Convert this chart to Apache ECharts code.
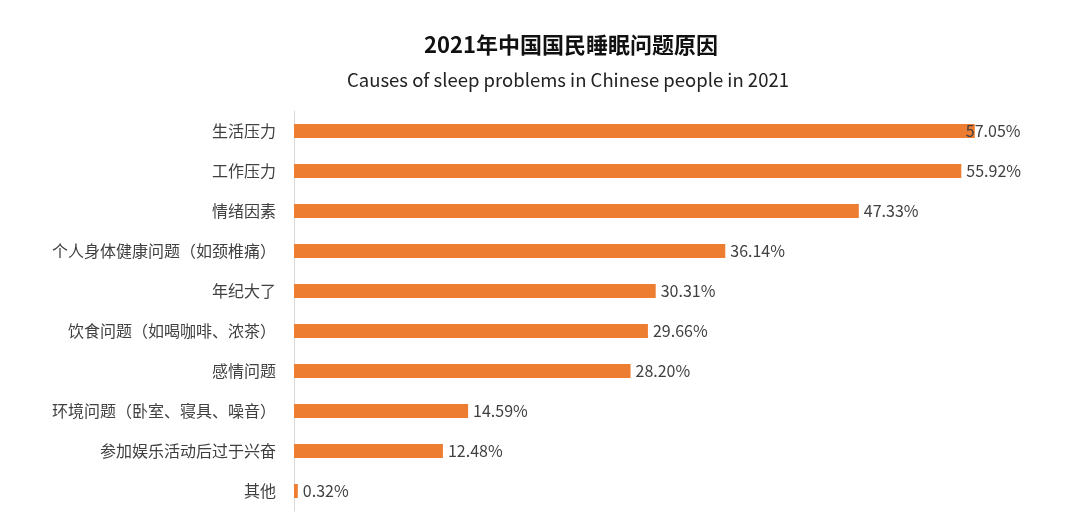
<!DOCTYPE html>
<html>
<head>
    <meta charset="utf-8">
    <title>ECharts</title>
    <script type="text/javascript" src="https://cdn.jsdelivr.net/npm/echarts@6/dist/echarts.min.js"></script>
    <style type="text/css">
        body { margin: 0; background: #fff; }
        #main { width: 1080px; height: 515px; }
    </style>
</head>
<body>
<div id="main"></div>
<script type="text/javascript">
    // 原因（从上到下）
    var categories = ['生活压力', '工作压力', '情绪因素', '个人身体健康问题（如颈椎痛）', '年纪大了',
        '饮食问题（如喝咖啡、浓茶）', '感情问题', '环境问题（卧室、寝具、噪音）', '参加娱乐活动后过于兴奋', '其他'];
    // 占比 %
    var values = [57.05, 55.92, 47.33, 36.14, 30.31, 29.66, 28.20, 14.59, 12.48, 0.32];

    var myChart = echarts.init(document.getElementById('main'));

    var font = '"Noto Sans CJK SC", "Noto Sans", sans-serif';

    var option = {
        title: [{
            text: '2021年中国国民睡眠问题原因',
            left: 419,
            top: 29,
            textStyle: { fontFamily: font, fontSize: 22, fontWeight: 'bold', color: '#111' }
        }, {
            text: 'Causes of sleep problems in Chinese people in 2021',
            left: 342,
            top: 66,
            textStyle: { fontFamily: font, fontSize: 18.5, fontWeight: 'normal', color: '#222' }
        }],
        grid: {
            left: 294,
            width: 716,
            top: 111,
            height: 400
        },
        xAxis: {
            type: 'value',
            min: 0,
            max: 60,
            show: false
        },
        yAxis: {
            type: 'category',
            inverse: true,
            data: categories,
            axisLine: { lineStyle: { color: '#d9d9d9' } },
            axisTick: { show: false },
            axisLabel: { margin: 18, fontFamily: font, fontSize: 16, color: '#404040' }
        },
        series: [{
            type: 'bar',
            barWidth: 14,
            itemStyle: { color: '#ED7D31' },
            data: values.map(function (v, i) {
                var d = { value: v };
                if (i === 0) d.label = { offset: [-14, 0] };
                return d;
            }),
            label: {
                show: true,
                position: 'right',
                distance: 5,
                fontFamily: font,
                fontSize: 16,
                color: '#404040',
                formatter: function (p) { return p.value.toFixed(2) + '%'; }
            }
        }]
    };

    myChart.setOption(option);
</script>
</body>
</html>
